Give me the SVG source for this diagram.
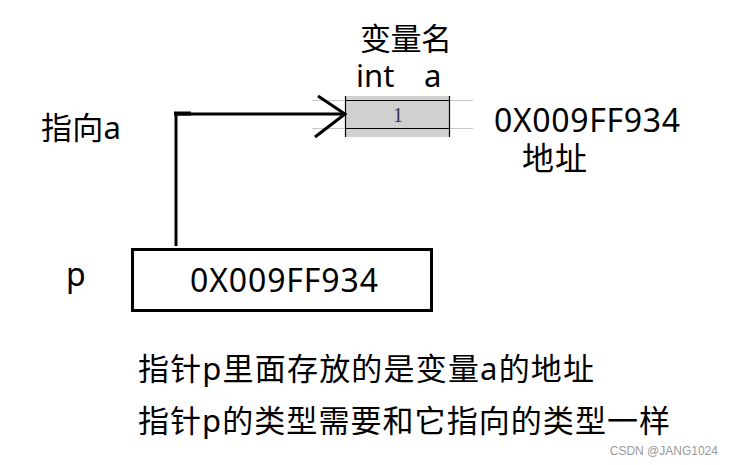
<svg xmlns="http://www.w3.org/2000/svg" width="733" height="465" viewBox="0 0 733 465">
<style>
.t{font-family:"Noto Sans","Noto Sans CJK SC",sans-serif;fill:#000;}
.c{stroke:#000;stroke-width:3;fill:none;}
</style>
<rect width="733" height="465" fill="#fff"/>
<g id="var-a">
<line x1="312" y1="100.5" x2="473" y2="100.5" stroke="#c8c8c8" stroke-width="1"/>
<line x1="312" y1="128.5" x2="473" y2="128.5" stroke="#c8c8c8" stroke-width="1"/>
<rect x="345" y="96" width="105" height="41" fill="#d0d0d0"/>
<line x1="345" y1="100.5" x2="450" y2="100.5" stroke="#000" stroke-width="1.2"/>
<line x1="345" y1="128.5" x2="450" y2="128.5" stroke="#000" stroke-width="1.2"/>
<line x1="345.5" y1="96" x2="345.5" y2="137" stroke="#000" stroke-width="1.2"/>
<line x1="449.5" y1="96" x2="449.5" y2="137" stroke="#000" stroke-width="1.2"/>
<text x="398" y="122" text-anchor="middle" font-family="Liberation Serif,serif" font-size="20" fill="#333355">1</text>
<text class="t" x="360" y="50" font-size="31" textLength="92">变量名</text>
<text class="t" x="356" y="87" font-size="31">int</text>
<text class="t" x="424" y="87" font-size="31">a</text>
<text class="t" x="494" y="132" font-size="32" textLength="186">0X009FF934</text>
<text class="t" x="522" y="170" font-size="32" textLength="65">地址</text>
</g>
<g id="pointer-p">
<rect x="132.5" y="249.5" width="299" height="61" fill="none" stroke="#000" stroke-width="3"/>
<text class="t" x="190" y="292" font-size="32" textLength="188">0X009FF934</text>
<text class="t" x="66" y="286" font-size="32">p</text>
</g>
<g id="label-point">
<text class="t" x="41" y="139" font-size="31" textLength="80">指向a</text>
</g>
<g id="connectors">
<path class="c" d="M176 246 V114 H345"/>
<line x1="174" y1="113.5" x2="191" y2="113.5" stroke="#000" stroke-width="4"/>
<path class="c" d="M318 96 L345 114 L315 137"/>
</g>
<g id="notes">
<text class="t" x="138" y="380" font-size="31" textLength="456">指针p里面存放的是变量a的地址</text>
<text class="t" x="138" y="432" font-size="31" textLength="532">指针p的类型需要和它指向的类型一样</text>
</g>
<text x="718" y="455" text-anchor="end" font-family="Liberation Sans,sans-serif" font-size="12" fill="#999">CSDN @JANG1024</text>
</svg>
